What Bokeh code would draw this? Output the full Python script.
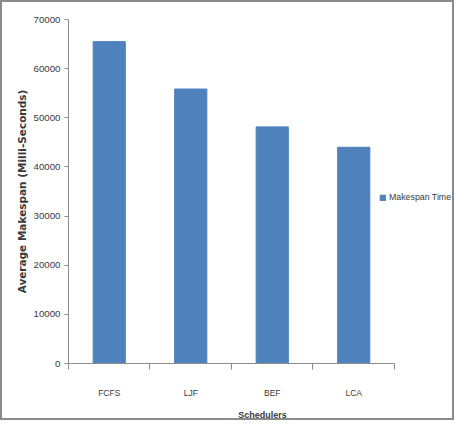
from bokeh.plotting import figure
from bokeh.models import (Range1d, FixedTicker, LinearAxis, Legend, LegendItem,
                          ColumnDataSource, NumeralTickFormatter)
from bokeh.embed import file_html
from bokeh.resources import INLINE

schedulers = ["FCFS", "LJF", "BEF", "LCA"]
makespan = [65500, 55850, 48150, 44000]
y_ticks = [0, 10000, 20000, 30000, 40000, 50000, 60000, 70000]
series_name = "Makespan Time"

positions = [i + 0.5 for i in range(len(schedulers))]
boundaries = list(range(len(schedulers) + 1))
src = ColumnDataSource(dict(x=positions, top=makespan, name=schedulers))

AXIS_COLOR = "#8c8c8c"
TEXT_COLOR = "#3a3a3a"
SANS = "Liberation Sans"

p = figure(width=454, height=420, output_backend="svg", toolbar_location=None,
           x_range=Range1d(0, 4.761), y_range=Range1d(0, 70000),
           x_axis_location=None, y_axis_location=None,
           min_border_left=66, min_border_right=0,
           min_border_top=17, min_border_bottom=55)
p.grid.visible = False
p.outline_line_color = None
p.background_fill_color = "white"
p.border_fill_color = "white"
p.styles = {"border": "2px solid #8a8a8a"}

bars = p.vbar(x="x", top="top", width=0.395, source=src,
              fill_color="#4F81BD", line_color="#4F81BD")

yaxis = LinearAxis(ticker=FixedTicker(ticks=y_ticks),
                   formatter=NumeralTickFormatter(format="0"),
                   axis_label="Average Makespan (Milli-Seconds)")
yaxis.axis_line_color = AXIS_COLOR
yaxis.major_tick_line_color = AXIS_COLOR
yaxis.major_tick_out = 4
yaxis.major_tick_in = 0
yaxis.minor_tick_line_color = None
yaxis.major_label_standoff = 4
yaxis.major_label_text_font = SANS
yaxis.major_label_text_font_size = "9.7px"
yaxis.major_label_text_color = TEXT_COLOR
yaxis.axis_label_text_font = "DejaVu Sans"
yaxis.axis_label_text_font_style = "bold"
yaxis.axis_label_text_font_size = "10.5px"
yaxis.axis_label_text_color = TEXT_COLOR
yaxis.axis_label_standoff = 3
p.add_layout(yaxis, "left")

xaxis = LinearAxis(ticker=FixedTicker(ticks=positions, minor_ticks=boundaries),
                   major_label_overrides={pos: nm for pos, nm in zip(positions, schedulers)},
                   axis_label="Schedulers")
xaxis.bounds = (boundaries[0], boundaries[-1])
xaxis.axis_line_color = AXIS_COLOR
xaxis.major_tick_line_color = None
xaxis.major_tick_out = 0
xaxis.major_tick_in = 0
xaxis.minor_tick_line_color = AXIS_COLOR
xaxis.minor_tick_out = 6
xaxis.minor_tick_in = 0
xaxis.major_label_standoff = 18
xaxis.major_label_text_font = SANS
xaxis.major_label_text_font_size = "8.5px"
xaxis.major_label_text_color = TEXT_COLOR
xaxis.axis_label_text_font = SANS
xaxis.axis_label_text_font_style = "bold"
xaxis.axis_label_text_font_size = "9px"
xaxis.axis_label_text_color = TEXT_COLOR
xaxis.axis_label_standoff = 9
p.add_layout(xaxis, "below")

legend = Legend(items=[LegendItem(label=series_name, renderers=[bars])],
                location=(311, 160), padding=0, margin=0,
                glyph_width=7, glyph_height=7, label_height=12,
                label_standoff=3, border_line_color=None,
                background_fill_alpha=0,
                label_text_font=SANS, label_text_font_size="8.8px",
                label_text_color=TEXT_COLOR)
p.add_layout(legend, "center")

open("out.html", "w").write(file_html(p, INLINE))
